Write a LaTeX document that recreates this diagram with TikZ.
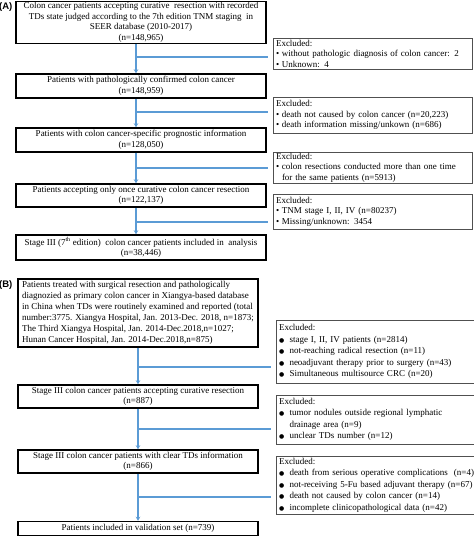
\documentclass[tikz,border=0pt]{standalone}
\usepackage{fontspec}
\setmainfont{Liberation Serif}
\newfontfamily\tagfont{Liberation Sans}
\newfontfamily\dotfont{DejaVu Sans}
\usetikzlibrary{arrows.meta,positioning,calc}
\definecolor{flowblue}{HTML}{5B9BD5}
\definecolor{boxgray}{HTML}{505050}
\newcommand\sbul{\makebox[6pt][l]{\textbullet}}
\newcommand\bbul{\makebox[10.5pt][l]{{\dotfont\fontsize{6}{6}\selectfont ●}}}

\begin{document}
\begin{tikzpicture}[x=1pt,y=-1pt,
  every node/.style={font=\fontsize{9}{10.5}\selectfont},
  mainbox/.style={draw,line width=1.5pt,align=center,inner sep=1pt},
  exbox/.style={draw=boxgray,line width=.7pt,align=left,inner xsep=3pt,inner ysep=1pt},
  flow/.style={flowblue,line width=1.3pt,-{Stealth[length=4pt,width=4.5pt]}},
  branch/.style={flowblue,line width=1.1pt,shorten >=5pt},
  tag/.style={font=\tagfont\bfseries\fontsize{9.5}{10}\selectfont,anchor=west,inner sep=0pt}]
\useasboundingbox (0,0) rectangle (474,536);
\fill[white] (0,0) rectangle (474,536);
% (A) SEER cohort
\node[tag] (tagA) at (-1,7) {(A)};
\node[mainbox,minimum width=250pt,minimum height=41pt] (a1) at (141,22.5)
  {Colon cancer patients accepting curative\ \ resection with recorded\\
   TDs state judged according to the 7th edition TNM staging\ \ in\\
   SEER database (2010-2017)\\ (n=148,965)};
\node[mainbox,minimum width=250pt,minimum height=24pt] (a2) at (141,86)
  {Patients with pathologically confirmed colon cancer\\(n=148,959)};
\node[mainbox,minimum width=250pt,minimum height=24pt] (a3) at (141,140)
  {Patients with colon cancer-specific prognostic information\\(n=128,050)};
\node[mainbox,minimum width=250pt,minimum height=23pt] (a4) at (141,195.5)
  {Patients accepting only once curative colon cancer resection\\(n=122,137)};
\node[mainbox,minimum width=250pt,minimum height=25pt] (a5) at (141,247.5)
  {Stage III (7\textsuperscript{th} edition)\ \ colon cancer patients included in\ \ analysis\\(n=38,446)};
\node[exbox,text width=193pt,minimum height=31pt] (ea1) at (372.5,53.5)
  {Excluded:\\ \sbul without pathologic diagnosis of colon cancer: 2\\ \sbul Unknown: 4};
\node[exbox,text width=193pt,minimum height=36pt] (ea2) at (372.5,115)
  {Excluded:\\ \sbul death not caused by colon cancer (n=20,223)\\ \sbul death information missing/unkown (n=686)};
\node[exbox,text width=193pt,minimum height=31pt] (ea3) at (372.5,167.5)
  {Excluded:\\ \sbul colon resections conducted more than one time\\ \hspace*{6pt}for the same patients (n=5913)};
\node[exbox,text width=193pt,minimum height=35pt] (ea4) at (372.5,211.5)
  {Excluded:\\ \sbul TNM stage I, II, IV (n=80237)\\ \sbul Missing/unknown: 3454};
\coordinate (ax) at (136,0);
\foreach \p/\q in {a1/a2,a2/a3,a3/a4,a4/a5}
  \draw[flow] (\p.south -| ax) -- (\q.north -| ax);
\foreach \y/\e in {57/ea1,112/ea2,168/ea3,222/ea4}{
  \coordinate (j\e) at (136,\y);
  \draw[branch] (j\e) -- (j\e -| \e.west);
}
% (B) Xiangya cohort
\node[tag] (tagB) at (-1,285) {(B)};
\node[mainbox,minimum width=240pt,minimum height=68pt,align=left,font=\fontsize{9}{11}\selectfont] (b1) at (138,313)
  {Patients treated with surgical resection and pathologically\\
   diagnozied as primary colon cancer in Xiangya-based database\\
   in China when TDs were routinely examined and reported (total\\
   number:3775. Xiangya Hospital, Jan. 2013-Dec. 2018, n=1873;\\
   The Third Xiangya Hospital, Jan. 2014-Dec.2018,n=1027;\\
   Hunan Cancer Hospital, Jan. 2014-Dec.2018,n=875)};
\node[mainbox,minimum width=240pt,minimum height=23pt] (b2) at (138,396.5)
  {Stage III colon cancer patients accepting curative resection\\(n=887)};
\node[mainbox,minimum width=240pt,minimum height=23pt] (b3) at (138,461.5)
  {Stage III colon cancer patients with clear TDs information\\(n=866)};
\node[mainbox,minimum width=240pt,minimum height=14pt] (b4) at (138,528.5)
  {Patients included in validation set (n=739)};
\node[exbox,text width=204pt,minimum height=63pt,font=\fontsize{9}{11.5}\selectfont] (eb1) at (381,351.5)
  {Excluded:\\ \bbul stage I, II, IV patients (n=2814)\\ \bbul not-reaching radical resection (n=11)\\
   \bbul neoadjuvant therapy prior to surgery (n=43)\\ \bbul Simultaneous multisource CRC (n=20)};
\node[exbox,text width=204pt,minimum height=49pt,font=\fontsize{9}{11.5}\selectfont] (eb2) at (381,419.5)
  {Excluded:\\ \bbul tumor nodules outside regional lymphatic\\ \hspace*{10.5pt}drainage area (n=9)\\
   \bbul unclear TDs number (n=12)};
\node[exbox,text width=204pt,minimum height=58pt,font=\fontsize{9}{11.5}\selectfont] (eb3) at (381,485)
  {Excluded:\\ \bbul death from serious operative complications\ \ (n=4)\\
   \bbul not-receiving 5-Fu based adjuvant therapy (n=67)\\ \bbul death not caused by colon cancer (n=14)\\
   \bbul incomplete clinicopathological data (n=42)};
\foreach \p/\q in {b1/b2,b2/b3,b3/b4}
  \draw[flow] (\p) -- (\q);
\foreach \y/\e in {367/eb1,429/eb2,497/eb3}{
  \coordinate (j\e) at (b1.center |- 0,\y);
  \draw[branch] (j\e) -- (j\e -| \e.west);
}
\end{tikzpicture}
\end{document}
